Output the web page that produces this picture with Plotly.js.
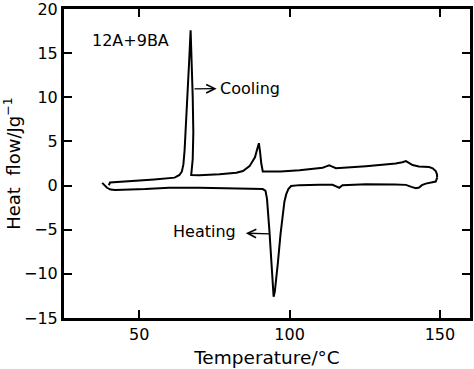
<!DOCTYPE html>
<html>
<head>
<meta charset="utf-8">
<script src="https://cdn.plot.ly/plotly-3.0.1.min.js"></script>
<style>html,body{margin:0;padding:0;background:#fff;}#chart{width:474px;height:369px;}</style>
</head>
<body>
<div id="chart"></div>
<script>
// Heating run (lower curve), temperature in °C and heat flow in J/g
const heatingT = [37.7, 38.6, 39.3, 40.5, 42, 52, 60, 70, 80, 88, 91.1, 92.0, 92.5, 93.3, 94.0, 94.4, 94.7, 95.1, 95.6, 96.1, 97.0, 97.7, 98.3, 98.9, 99.6, 100.5, 103.3, 110, 114.3, 115.5, 116.5, 117.6, 125.4, 135, 138.7, 140.5, 142, 143.1, 144, 145.3, 147.5, 148.6, 149.1];
const heatingHF = [0.3, 0.0, -0.25, -0.45, -0.5, -0.4, -0.25, -0.25, -0.3, -0.35, -0.4, -0.6, -1.5, -5.1, -9.5, -12.2, -12.6, -12.0, -10.5, -8.8, -5.5, -3.2, -1.8, -0.97, -0.4, -0.05, 0.05, 0.08, 0.08, -0.1, -0.25, 0.05, 0.15, 0.12, 0.08, -0.15, -0.3, -0.22, 0.05, 0.22, 0.35, 0.45, 0.9];

// Cooling run (upper curve), from high to low temperature
const coolingT = [149.1, 149.0, 148.6, 147.6, 146.4, 143, 140.9, 139.8, 138.7, 137.5, 135.3, 125.4, 117, 115.4, 114.2, 113.2, 112, 111, 103.3, 97, 91.1, 90.6, 90.2, 89.8, 89.3, 88.5, 86.7, 84.5, 82.3, 76.7, 70, 67.3, 67.8, 68.0, 67.8, 67.4, 67.1, 66.6, 66.1, 65.5, 65.1, 64.7, 64.2, 63.4, 61.8, 55, 46.3, 40.3, 39.9];
const coolingHF = [0.9, 1.3, 1.65, 1.95, 2.1, 2.15, 2.33, 2.6, 2.78, 2.65, 2.5, 2.2, 1.95, 1.96, 2.15, 2.3, 2.15, 2.03, 1.73, 1.6, 1.6, 2.5, 3.8, 4.8, 4.2, 3.2, 2.2, 1.65, 1.46, 1.28, 1.18, 1.2, 3, 6, 10, 14, 17.6, 14, 10, 6, 4, 2.4, 1.6, 1.2, 0.9, 0.7, 0.45, 0.34, 0.04];

const xTicks = [50, 100, 150];
const yTicks = [-15, -10, -5, 0, 5, 10, 15, 20];

const sampleLabel = '12A+9BA';
const coolLabel = 'Cooling';
const heatLabel = 'Heating';

const FONT = 'DejaVu Sans, Arial, sans-serif';

const traces = [
  {x: heatingT, y: heatingHF, mode: 'lines', line: {color: '#000', width: 2}, hoverinfo: 'skip', showlegend: false},
  {x: coolingT, y: coolingHF, mode: 'lines', line: {color: '#000', width: 2}, hoverinfo: 'skip', showlegend: false}
];

const axisCommon = {
  showline: true, linecolor: '#000', linewidth: 3, mirror: 'ticks',
  ticks: 'inside', ticklen: 8, tickwidth: 2, tickcolor: '#000',
  showgrid: false, zeroline: false, ticklabeloverflow: 'allow',
  tickfont: {family: FONT, size: 16, color: '#000'}
};

const layout = {
  width: 474, height: 369,
  margin: {l: 64, r: 4, t: 9, b: 51},
  paper_bgcolor: '#fff', plot_bgcolor: '#fff',
  font: {family: FONT, color: '#000'},
  xaxis: Object.assign({}, axisCommon, {
    range: [25, 160], tickmode: 'array', tickvals: xTicks,
    title: {text: 'Temperature/°C', font: {family: FONT, size: 18.5, color: '#000'}, standoff: 8}
  }),
  yaxis: Object.assign({}, axisCommon, {
    range: [-15, 20], tickmode: 'array', tickvals: yTicks,
    title: {text: 'Heat  flow/Jg<sup>−1</sup>', font: {family: FONT, size: 18, color: '#000'}, standoff: 8}
  }),
  annotations: [
    {x: 33.6, y: 16.4, xref: 'x', yref: 'y', text: sampleLabel, showarrow: false, xanchor: 'left', yanchor: 'middle', font: {family: FONT, size: 16, color: '#000'}},
    {x: 68.4, y: 10.96, ax: 86.9, ay: 11.0, axref: 'x', ayref: 'y', xref: 'x', yref: 'y', text: coolLabel,
     showarrow: true, arrowside: 'start', arrowhead: 5, startarrowhead: 5, startarrowsize: 1.3, arrowwidth: 1.3, arrowcolor: '#000', startstandoff: 2,
     font: {family: FONT, size: 16, color: '#000'}},
    {x: 93.3, y: -5.47, ax: 71.8, ay: -5.25, axref: 'x', ayref: 'y', xref: 'x', yref: 'y', text: heatLabel,
     showarrow: true, arrowside: 'start', arrowhead: 5, startarrowhead: 5, startarrowsize: 1.3, arrowwidth: 1.3, arrowcolor: '#000', startstandoff: 8,
     font: {family: FONT, size: 16, color: '#000'}}
  ]
};

Plotly.newPlot('chart', traces, layout, {staticPlot: true, displayModeBar: false});
</script>
</body>
</html>
